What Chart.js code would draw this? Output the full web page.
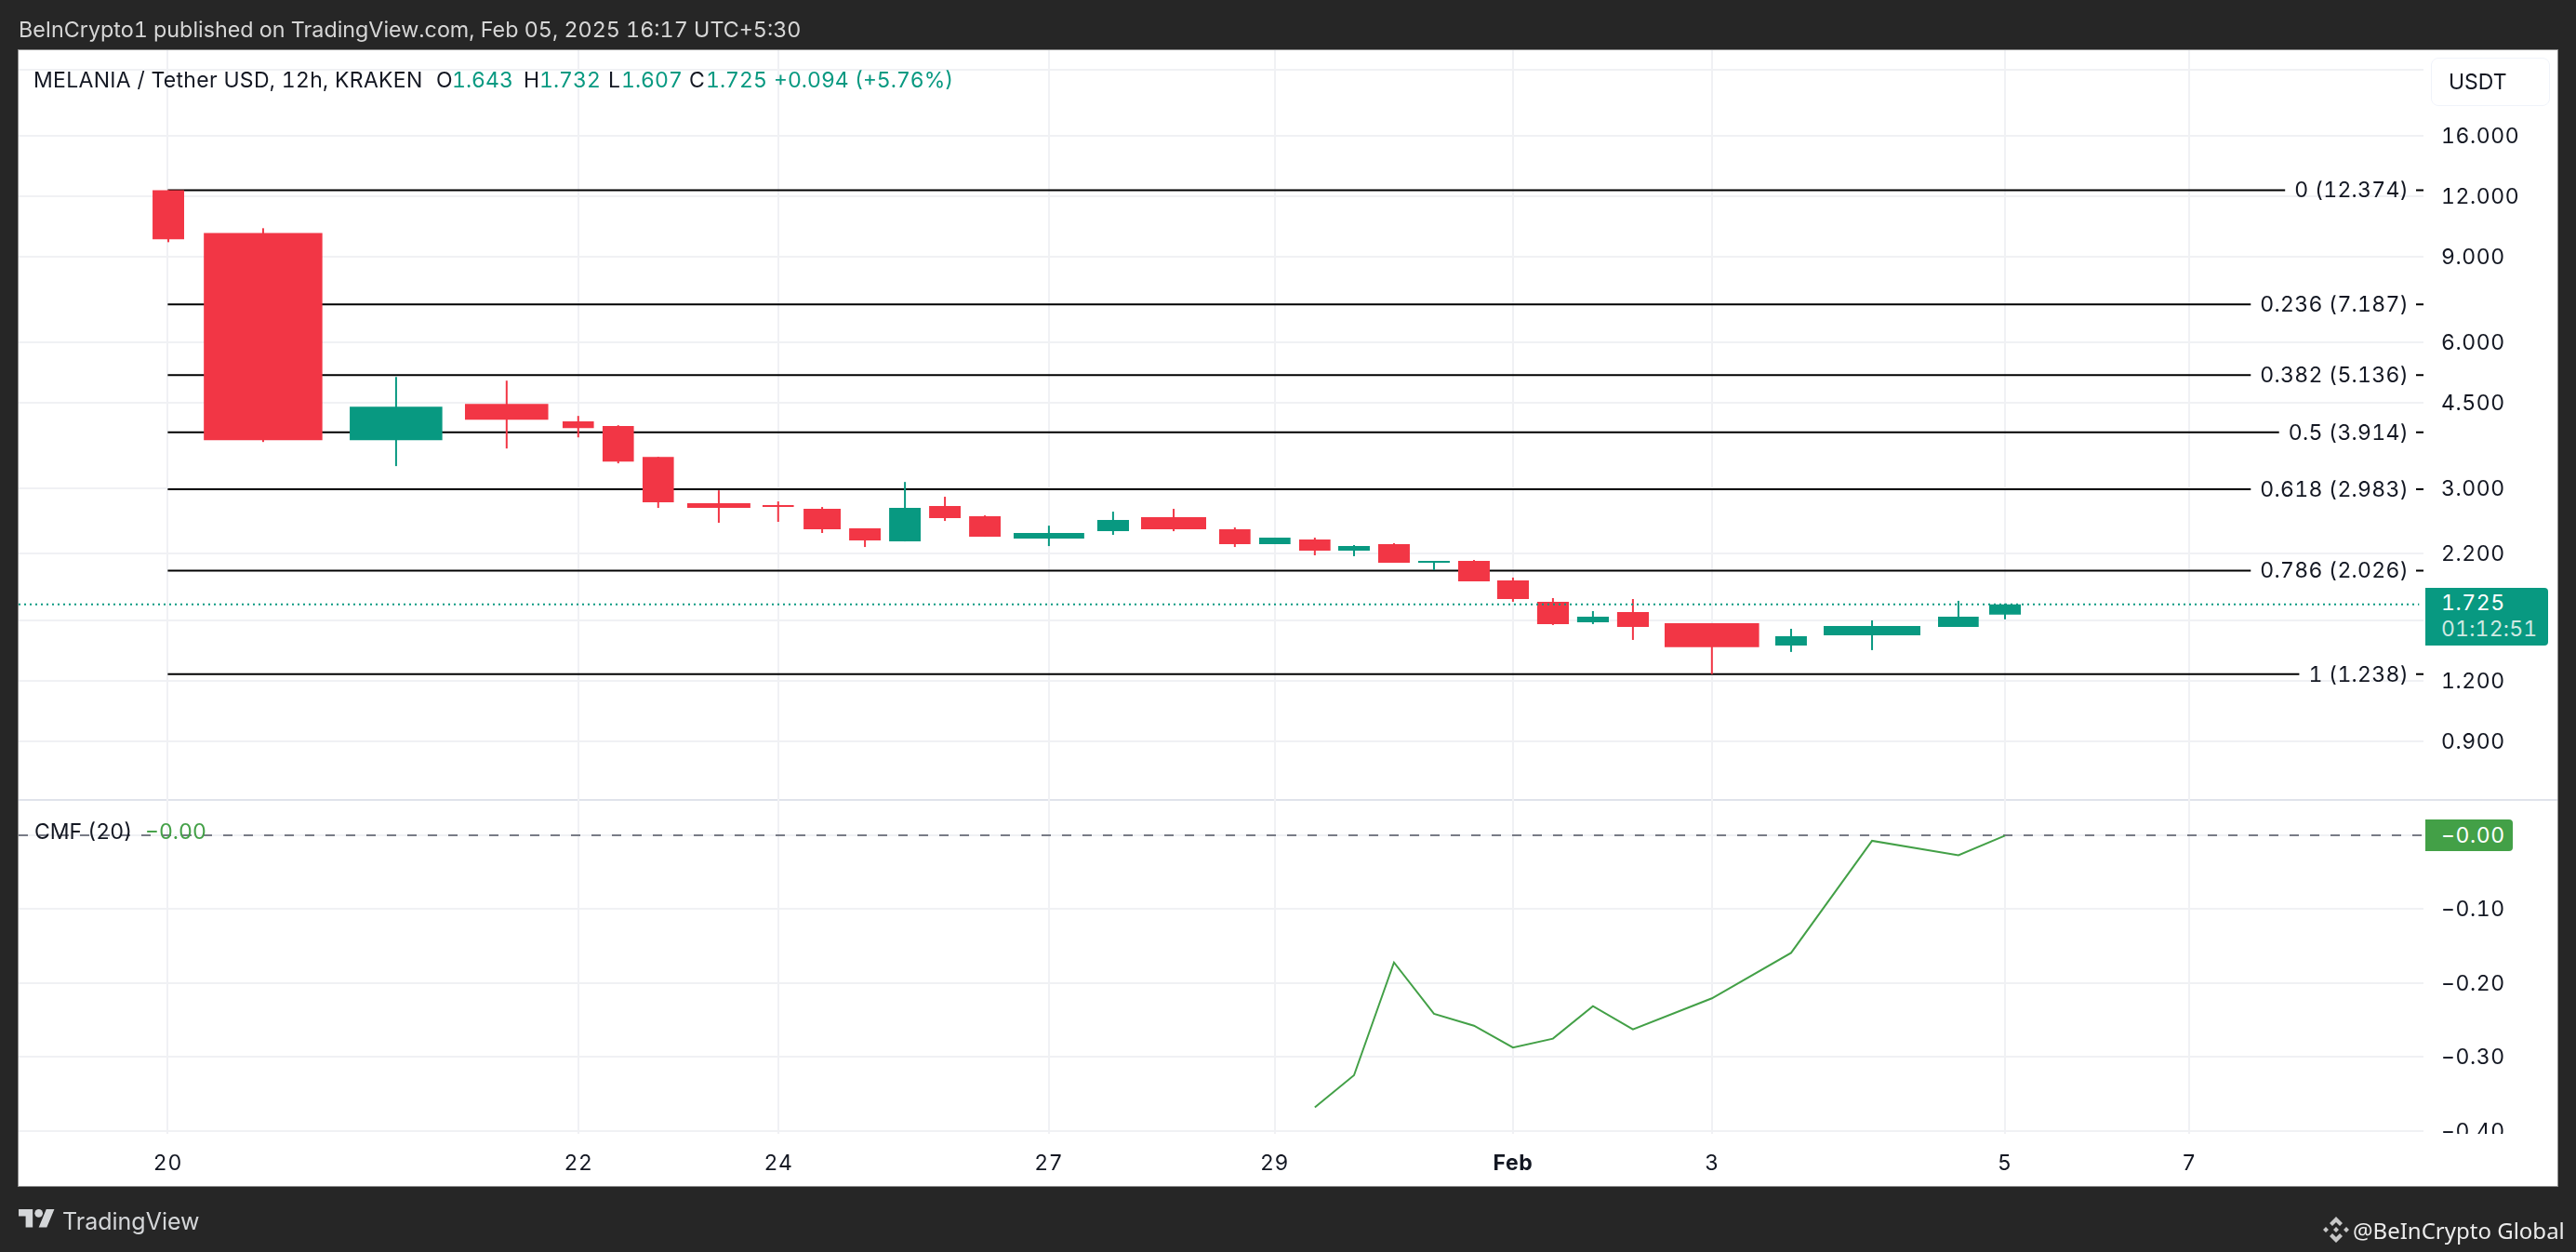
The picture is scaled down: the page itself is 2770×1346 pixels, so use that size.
<!DOCTYPE html>
<html>
<head>
<meta charset="utf-8">
<title>MELANIA / Tether USD</title>
<script src="https://cdn.jsdelivr.net/npm/chart.js@4"></script>
<style>
  html, body { margin: 0; padding: 0; background: #262626; }
  body { width: 2770px; height: 1346px; position: relative; overflow: hidden; font-family: Inter, sans-serif; font-variant-numeric: tabular-nums; }
  #panel { position: absolute; left: 20px; top: 54px; width: 2730px; height: 1221px; background: #fff; box-shadow: 0 0 0 1px #8c8c8c; }
  #divider { position: absolute; left: 20px; top: 859px; width: 2730px; height: 2px; background: #e0e3eb; }
  canvas { position: absolute; left: 0; top: 0; }
  .txt { position: absolute; white-space: pre; line-height: 28px; font-size: 23px; color: #131722; }
  .up { color: #089981; }
  .cmf { color: #43a047; }
  .tag { position: absolute; border-radius: 0 4px 4px 0; }
</style>
</head>
<body>
<div id="panel"></div>
<div id="divider"></div>
<canvas id="chart" width="2770" height="1346"></canvas>

<div class="txt" style="left:20px;top:18px;color:#d6d6d6;font-size:23.3px" id="published">BeInCrypto1 published on TradingView.com, Feb 05, 2025 16:17 UTC+5:30</div>

<div class="txt" style="left:36px;top:72px;letter-spacing:0.3px" id="symbol">MELANIA / Tether USD, 12h, KRAKEN</div>
<div class="txt" style="left:469px;top:72px">O</div><div class="txt up" style="left:486px;top:72px" id="legO"></div>
<div class="txt" style="left:563px;top:72px">H</div><div class="txt up" style="left:580px;top:72px" id="legH"></div>
<div class="txt" style="left:654px;top:72px">L</div><div class="txt up" style="left:668px;top:72px" id="legL"></div>
<div class="txt" style="left:741px;top:72px">C</div><div class="txt up" style="left:759px;top:72px" id="legC"></div>
<div class="txt up" style="left:832px;top:72px">+0.094 (+5.76%)</div>

<div style="position:absolute;left:2614px;top:62px;width:126px;height:50px;border:1px solid #f0f3fa;border-radius:8px"></div>
<div class="txt" style="left:2633px;top:74px">USDT</div>

<div class="tag" style="left:2608px;top:632px;width:132px;height:62px;background:#089981"></div>
<div class="txt" style="left:2625px;top:634px;color:#fff;letter-spacing:0.6px" id="tagPrice"></div>
<div class="txt" style="left:2625px;top:662px;color:#cfe9e3;letter-spacing:0.2px">01:12:51</div>

<div class="tag" style="left:2608px;top:881px;width:94px;height:34px;background:#43a047"></div>
<div class="txt" style="left:2625px;top:884px;color:#fff;letter-spacing:0.6px">−0.00</div>

<div class="txt" style="left:37px;top:880px">CMF (20)</div>
<div class="txt cmf" style="left:156px;top:880px">−0.00</div>

<svg style="position:absolute;left:20px;top:1300px" width="39" height="20" viewBox="0 0 36 18.5">
  <path fill="#d4d6d8" d="M14 18H7V7H0V0h14v18zM28 18h-8L27.5 0h8L28 18z"/><circle cx="20" cy="4" r="4" fill="#d4d6d8"/>
</svg>
<div class="txt" style="left:67px;top:1297px;font-size:25px;line-height:32px;color:#d4d6d8">TradingView</div>

<svg style="position:absolute;left:2498px;top:1308px" width="28" height="28" viewBox="0 0 28 28">
  <path fill="#c8c8c8" d="M14 0l7 7-3 3-4-4-4 4-3-3zM14 28l7-7-3-3-4 4-4-4-3 3zM3 11l3 3-3 3-3-3zM25 11l3 3-3 3-3-3zM14 11l3 3-3 3-3-3z"/>
</svg>
<div class="txt" style="left:2530px;top:1307px;font-family:'Noto Sans';font-size:24px;line-height:32px;color:#ececec">@BeInCrypto Global</div>

<script>
// candles
const opens  = [12.374, 10.10, 3.769, 4.478, 4.119, 4.029, 3.481, 2.791, 2.767, 2.718, 2.477, 2.328, 2.754, 2.624, 2.359, 2.444, 2.612, 2.466, 2.298, 2.349, 2.227, 2.298, 2.103, 2.122, 1.934, 1.747, 1.585, 1.663, 1.578, 1.419, 1.490, 1.550, 1.643];
const highs  = [12.374, 10.33, 5.091, 5.002, 4.229, 4.046, 3.481, 2.968, 2.816, 2.742, 2.477, 3.089, 2.879, 2.635, 2.509, 2.682, 2.718, 2.488, 2.370, 2.370, 2.288, 2.308, 2.122, 2.131, 1.960, 1.778, 1.671, 1.770, 1.578, 1.536, 1.599, 1.755, 1.732];
const lows   = [9.666, 3.736, 3.331, 3.622, 3.819, 3.375, 2.730, 2.544, 2.555, 2.423, 2.267, 2.328, 2.566, 2.380, 2.277, 2.402, 2.444, 2.267, 2.298, 2.179, 2.170, 2.103, 2.030, 1.925, 1.747, 1.564, 1.571, 1.457, 1.238, 1.376, 1.388, 1.550, 1.607];
const closes = [9.795, 3.769, 4.420, 4.155, 3.992, 3.405, 2.804, 2.730, 2.742, 2.466, 2.338, 2.730, 2.600, 2.380, 2.423, 2.577, 2.466, 2.298, 2.370, 2.227, 2.277, 2.103, 2.122, 1.925, 1.770, 1.571, 1.627, 1.550, 1.407, 1.483, 1.557, 1.627, 1.725];

// where each candle starts and ends on the time axis (the shot has uneven bar widths)
const barLeft  = [-0.38, 0.90, 4.55, 7.43, 9.87, 10.87, 11.87, 12.99, 14.87, 15.90, 17.04, 18.04, 19.04, 20.04, 21.15, 23.24, 24.34, 26.29, 27.29, 28.29, 29.27, 30.27, 31.27, 32.27, 33.24, 34.24, 35.24, 36.24, 37.43, 40.20, 41.41, 44.27, 45.55];
const barRight = [0.41, 3.87, 6.87, 9.52, 10.66, 11.66, 12.66, 14.57, 15.66, 16.83, 17.83, 18.83, 19.83, 20.83, 22.92, 24.04, 25.97, 27.08, 28.08, 29.08, 30.06, 31.06, 32.06, 33.06, 34.04, 35.04, 36.04, 37.04, 39.80, 40.99, 43.83, 45.29, 46.34];

// chaikin money flow, one value per bar for the last 14 candles
const cmfValues = [-0.368, -0.3245, -0.172, -0.2415, -0.2575, -0.287, -0.275, -0.231, -0.2625, -0.2205, -0.159, -0.0075, -0.027, -0.0005];

const fibRatios = ['0', '0.236', '0.382', '0.5', '0.618', '0.786', '1'];
const fibPrices = [12.374, 7.187, 5.136, 3.914, 2.983, 2.026, 1.238];

const xTickValues = [0, 10.27, 15.27, 22.03, 27.68, 33.64, 38.62, 45.94, 50.55];
const xTickLabels = ['20', '22', '24', '27', '29', 'Feb', '3', '5', '7'];
const priceTicks = [22, 16, 12, 9, 6, 4.5, 3, 2.2, 1.6, 1.2, 0.9];
const hiddenPriceTicks = [22, 1.6];   // grid only, label is covered in the original
const cmfTicks = [0, -0.1, -0.2, -0.3, -0.4];

const UP = '#089981', DOWN = '#f23645', CMF_GREEN = '#43a047';
const X_MIN = -3.73, X_MAX = 56.41;
const lastClose = closes[closes.length - 1];
const last = closes.length - 1;

document.getElementById('legO').textContent = opens[last].toFixed(3);
document.getElementById('legH').textContent = highs[last].toFixed(3);
document.getElementById('legL').textContent = lows[last].toFixed(3);
document.getElementById('legC').textContent = lastClose.toFixed(3);
document.getElementById('tagPrice').textContent = lastClose.toFixed(3);

const barMid = i => (barLeft[i] + barRight[i]) / 2;

function lineSet(data, color, width, order, extra) {
  return Object.assign({
    data, borderColor: color, borderWidth: width, order,
    pointRadius: 0, tension: 0, fill: false, yAxisID: 'y', xAxisID: 'x'
  }, extra || {});
}

const datasets = [];

// fib levels sit behind the candles
fibPrices.forEach(p => {
  datasets.push(lineSet([{ x: 0, y: p }, { x: X_MAX, y: p }], '#000', 2, 5));
});

closes.forEach((c, i) => {
  const color = c >= opens[i] ? UP : DOWN;
  datasets.push(lineSet([{ x: barMid(i), y: lows[i] }, { x: barMid(i), y: highs[i] }], color, 2, 3));
  datasets.push(lineSet(
    [{ x: barLeft[i], y: Math.max(opens[i], c) }, { x: barRight[i], y: Math.max(opens[i], c) }],
    color, 0, 2,
    { fill: { target: { value: Math.min(opens[i], c) } }, backgroundColor: color }
  ));
});

// last price marker
datasets.push(lineSet([{ x: X_MIN, y: lastClose }, { x: 56.3, y: lastClose }], UP, 2, 1, { borderDash: [2, 4] }));

// CMF pane
const firstCmf = closes.length - cmfValues.length;
datasets.push(lineSet([{ x: X_MIN, y: 0 }, { x: X_MAX, y: 0 }], '#787b86', 2, 4, { yAxisID: 'cmf', borderDash: [10, 12] }));
datasets.push(lineSet(cmfValues.map((v, i) => ({ x: barMid(firstCmf + i), y: v })), CMF_GREEN, 2, 1, { yAxisID: 'cmf' }));

const FONT = { family: 'Inter', size: 23 };
const GRID = '#f0f1f4';

const fibLabels = {
  id: 'fibLabels',
  beforeDraw(chart) { chart.ctx.letterSpacing = '0.6px'; },
  afterDatasetsDraw(chart) {
    const ctx = chart.ctx, yScale = chart.scales.y;
    ctx.save();
    ctx.font = '23px Inter';
    ctx.letterSpacing = '0.3px';
    ctx.textBaseline = 'middle';
    ctx.textAlign = 'right';
    fibPrices.forEach((p, i) => {
      const y = yScale.getPixelForValue(p);
      const label = fibRatios[i] + ' (' + p.toFixed(3) + ')';
      const w = ctx.measureText(label).width;
      ctx.fillStyle = '#fff';
      ctx.fillRect(2580 - w, y - 2, w + 18, 4);
      ctx.fillStyle = '#131722';
      ctx.fillText(label, 2590, y + 1);
    });
    ctx.restore();
  },
  afterDraw(chart) {
    // -0.40 is cut by the pane bottom in the original
    const ctx = chart.ctx;
    ctx.fillStyle = '#fff';
    ctx.fillRect(chart.chartArea.right + 1, chart.chartArea.bottom, 143, 40);
  }
};

new Chart(document.getElementById('chart'), {
  type: 'line',
  data: { datasets },
  plugins: [fibLabels],
  options: {
    responsive: false,
    devicePixelRatio: 1,
    animation: false,
    events: [],
    layout: { padding: { left: 20, top: 54, right: 20, bottom: 71 } },
    plugins: { legend: { display: false }, tooltip: { enabled: false } },
    scales: {
      x: {
        type: 'linear', min: X_MIN, max: X_MAX,
        border: { display: false },
        grid: { color: GRID, lineWidth: 2, drawTicks: false },
        afterBuildTicks: s => { s.ticks = xTickValues.map(value => ({ value })); },
        afterFit: s => { s.height = 56; },
        ticks: {
          autoSkip: false, maxRotation: 0, padding: 18, color: '#131722',
          font: ctx => ({ family: 'Inter', size: 23, weight: ctx.tick && xTickLabels[xTickValues.indexOf(ctx.tick.value)] === 'Feb' ? 'bold' : 'normal' }),
          callback: v => xTickLabels[xTickValues.indexOf(v)]
        }
      },
      y: {
        type: 'logarithmic', position: 'right', stack: 'panes', stackWeight: 806,
        min: 0.6805, max: 24.09, bounds: 'data',
        border: { display: false },
        grid: { color: GRID, lineWidth: 2, drawTicks: false },
        afterBuildTicks: s => { s.ticks = priceTicks.map(value => ({ value })); },
        afterFit: s => { s.width = 144; },
        ticks: {
          autoSkip: false, padding: 19, labelOffset: 1, color: '#131722', font: FONT,
          callback: v => hiddenPriceTicks.includes(v) ? '' : v.toFixed(3)
        }
      },
      cmf: {
        type: 'linear', position: 'right', stack: 'panes', stackWeight: 359,
        min: -0.4038, max: 0.0478, bounds: 'data',
        border: { display: false },
        grid: { color: GRID, lineWidth: 2, drawTicks: false },
        afterBuildTicks: s => { s.ticks = cmfTicks.map(value => ({ value })); },
        afterFit: s => { s.width = 144; },
        ticks: {
          autoSkip: false, padding: 19, labelOffset: 1, color: '#131722', font: FONT,
          callback: v => v === 0 ? '' : '−' + Math.abs(v).toFixed(2)
        }
      }
    }
  }
});
</script>
</body>
</html>
